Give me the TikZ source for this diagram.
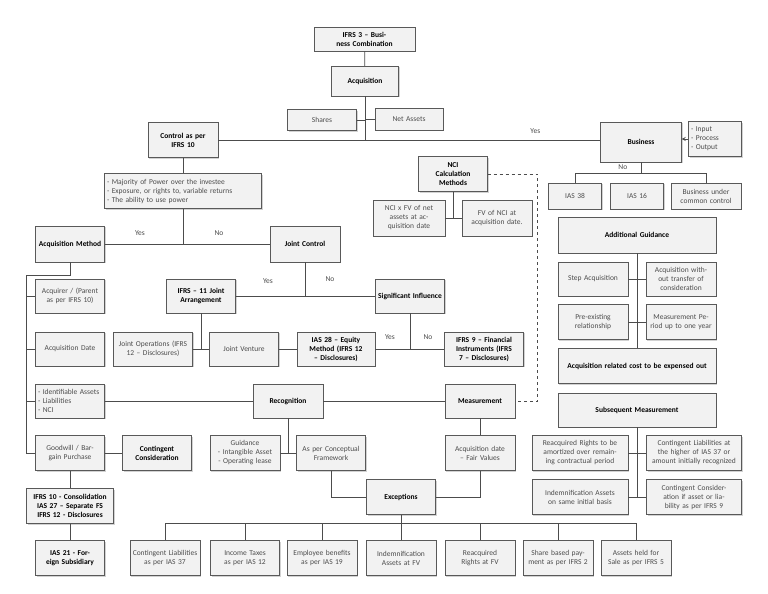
\documentclass[tikz,border=0pt]{standalone}
\usepackage{fontspec}
\setmainfont{Carlito}
\usetikzlibrary{shadows,calc}
\tikzset{
 box/.style={draw=black!65, fill=black!5, inner sep=1pt, align=center, font=\fontsize{7.5}{9}\selectfont, text=black!70, drop shadow={shadow xshift=1pt,shadow yshift=-1pt,opacity=0.35}},
 bbox/.style={box, font=\fontsize{7.5}{9}\selectfont\bfseries, text=black},
 lbox/.style={box, align=left},
 ln/.style={draw=black!70, line width=0.8pt},
 lab/.style={font=\fontsize{7.5}{9}\selectfont, text=black!70}
}
\newcommand\bx[7]{\node[#6, minimum width=#4pt, minimum height=#5pt, text width=\dimexpr#4pt-5pt\relax] (#1) at (#2,#3) {#7};}
\begin{document}
\begin{tikzpicture}[x=1pt,y=-1pt]
\useasboundingbox[fill=white] (0,0) rectangle (768,594);
% top
\bx{ifrs3}{364.5}{39}{101}{24}{bbox}{IFRS 3 -- Business Combination}
\bx{acq}{365}{81}{67}{30}{bbox}{Acquisition}
\bx{shares}{322}{120}{69}{21}{box}{Shares}
\bx{netassets}{409}{119}{68}{22}{box}{Net Assets}
\bx{control}{183}{140}{70}{35}{bbox}{Control as per\\IFRS 10}
\bx{majority}{183}{191}{157}{35}{lbox}{- Majority of Power over the investee\\- Exposure, or rights to, variable returns\\- The ability to use power}
\bx{acqmethod}{70}{244}{69}{36}{bbox}{Acquisition Method}
\bx{jointcontrol}{305}{244}{70}{36}{bbox}{Joint Control}
\bx{business}{641}{142}{81}{40}{bbox}{Business}
\bx{ipo}{715}{139}{53}{35}{lbox}{- Input\\- Process\\- Output}
\bx{nci}{453}{174}{69}{35}{bbox}{NCI\\Calculation Methods}
\bx{ncixfv}{409}{218}{72}{36}{box}{NCI x FV of net assets at acquisition date}
\bx{fvnci}{497}{218}{70}{36}{box}{FV of NCI at acquisition date.}
\bx{ias38}{575}{196}{53}{26}{box}{IAS 38}
\bx{ias16}{637}{196}{53}{26}{box}{IAS 16}
\bx{bucc}{706}{196}{70}{26}{box}{Business under common control}
\bx{addguid}{637}{235}{158}{36}{bbox}{Additional Guidance}
\bx{stepacq}{593}{279}{70}{34}{box}{Step Acquisition}
\bx{acqwithout}{681}{279}{70}{34}{box}{Acquisition without transfer of consideration}
\bx{preex}{593}{322}{70}{35}{box}{Pre-existing relationship}
\bx{measperiod}{681}{322}{70}{35}{box}{Measurement Period up to one year}
\bx{acqcost}{637}{366}{158}{35}{bbox}{Acquisition related cost to be expensed out}
% middle
\bx{acquirer}{70}{296}{69}{34}{box}{Acquirer / (Parent as per IFRS 10)}
\bx{ifrs11}{201}{296}{69}{34}{bbox}{IFRS -- 11 Joint Arrangement}
\bx{signif}{410}{296}{69}{34}{bbox}{Significant Influence}
\bx{acqdate}{70}{349}{69}{34}{box}{Acquisition Date}
\bx{jointops}{153}{349}{79}{34}{box}{Joint Operations (IFRS 12 -- Disclosures)}
\bx{jv}{244}{349}{69}{34}{box}{Joint Venture}
\bx{ias28}{336}{349}{78}{34}{bbox}{IAS 28 -- Equity Method (IFRS 12 -- Disclosures)}
\bx{ifrs9}{484}{349}{79}{34}{bbox}{IFRS 9 -- Financial Instruments (IFRS 7 -- Disclosures)}
\bx{idassets}{70}{401}{69}{34}{lbox}{- Identifiable Assets\\- Liabilities\\- NCI}
\bx{recog}{288}{401}{70}{34}{bbox}{Recognition}
\bx{meas}{480}{401}{70}{34}{bbox}{Measurement}
\bx{subseq}{637}{410}{158}{34}{bbox}{Subsequent Measurement}
\bx{goodwill}{70}{453}{69}{35}{box}{Goodwill / Bargain Purchase}
\bx{contcons}{157}{453}{69}{35}{bbox}{Contingent Consideration}
\bx{guidance}{245}{453}{70}{35}{box}{Guidance\\- Intangible Asset\\- Operating lease}
\bx{concept}{331}{453}{69}{35}{box}{As per Conceptual Framework}
\bx{acqfv}{480}{453}{70}{35}{box}{Acquisition date -- Fair Values}
\bx{reamort}{580}{453}{96}{35}{box}{Reacquired Rights to be amortized over remaining contractual period}
\bx{contlh}{694}{453}{95}{35}{box}{Contingent Liabilities at the higher of IAS 37 or amount initially recognized}
\bx{ifrs10}{70}{506}{87}{35}{bbox}{IFRS 10 - Consolidation\\IAS 27 -- Separate FS\\IFRS 12 - Disclosures}
\bx{except}{401}{497}{69}{35}{bbox}{Exceptions}
\bx{indsame}{580}{497}{96}{35}{box}{Indemnification Assets on same initial basis}
\bx{contcif}{694}{497}{95}{35}{box}{Contingent Consideration if asset or liability as per IFRS 9}
% bottom row
\bx{ias21}{70}{558}{69}{35}{bbox}{IAS 21 - Foreign Subsidiary}
\bx{b1}{165}{558}{70}{35}{box}{Contingent Liabilities as per IAS 37}
\bx{b2}{245}{558}{69}{35}{box}{Income Taxes as per IAS 12}
\bx{b3}{322}{558}{70}{35}{box}{Employee benefits as per IAS 19}
\bx{b4}{401}{558}{70}{35}{box}{Indemnification Assets at FV}
\bx{b5}{480}{558}{70}{35}{box}{Reacquired Rights at FV}
\bx{b6}{558}{558}{70}{35}{box}{Share based payment as per IFRS 2}
\bx{b7}{636}{558}{70}{35}{box}{Assets held for Sale as per IFRS 5}
% connectors
\coordinate (mainy) at (0,140);
\draw[ln] (ifrs3) -- (acq);
\draw[ln] (acq.south) -- (acq.south |- mainy);
\draw[ln] (shares.east) -- (shares.east -| acq.south);
\draw[ln] (netassets.west) -- (netassets.west -| acq.south);
\draw[ln] (control.east) -- (business.west |- control.east) node[lab,pos=0.83,above=3pt]{Yes};
\draw[ln,<-,>=stealth] (business.east |- ipo.west) -- (ipo.west);
\coordinate (busy) at (0,173);
\draw[ln] (business.south) -- (business.south |- busy) node[lab,pos=0.5,left=10pt]{No};
\draw[ln] (ias38.north |- busy) -- (bucc.north |- busy);
\draw[ln] (ias38.north |- busy) -- (ias38.north);
\draw[ln] (bucc.north |- busy) -- (bucc.north);
\draw[ln] (control) -- (majority);
\draw[ln] (acqmethod.east) -- (jointcontrol.west);
\draw[ln] (majority.south) -- (majority.south |- acqmethod.east);
\node[lab] (yes1) at (140,233) {Yes};
\node[lab] (no1) at (219,233) {No};
\draw[ln,dashed] (nci.east) -- ++(50,0) |- (meas.east);
\draw[ln] (nci.south) -- (nci.south |- ncixfv.east);
\draw[ln] (ncixfv.east) -- (fvnci.west);
\draw[ln] (ifrs11.east) -- (signif.west);
\draw[ln] (jointcontrol.south) -- (jointcontrol.south |- signif.west);
\node[lab] (yes2) at (268,281) {Yes};
\node[lab] (no2) at (330,279) {No};
\draw[ln] (jointops.east) -- (jv.west);
\draw[ln] (ifrs11.south) -- (ifrs11.south |- jv.west);
\draw[ln] (jv.east) -- (ias28.west);
\draw[ln] (ias28.east) -- (ifrs9.west);
\draw[ln] (signif.south) -- (signif.south |- ifrs9.west);
\node[lab] (yes3) at (390,337) {Yes};
\node[lab] (no3) at (428,337) {No};
\coordinate (lspine) at (26,275);
\draw[ln] (acqmethod.south) -- (acqmethod.south |- lspine) -- (lspine) -- (lspine |- goodwill.west) -- (goodwill.west);
\draw[ln] (lspine |- acquirer.west) -- (acquirer.west);
\draw[ln] (lspine |- acqdate.west) -- (acqdate.west);
\draw[ln] (lspine |- idassets.west) -- (idassets.west);
\draw[ln] (idassets.east) -- (recog.west);
\draw[ln] (recog.east) -- (meas.west);
\draw[ln] (guidance.east) -- (concept.west);
\draw[ln] (recog.south) -- (recog.south |- concept.west);
\draw[ln] (goodwill.east) -- (contcons.west);
\draw[ln] (goodwill) -- (ifrs10);
\draw[ln] (ifrs10) -- (ias21);
\draw[ln] (meas) -- (acqfv);
\draw[ln] (acqfv.south) |- (except.east);
\draw[ln] (concept.south) |- (except.west);
\coordinate (boty) at (0,523);
\draw[ln] (except.south) -- (except.south |- boty);
\draw[ln] (b1.north |- boty) -- (b7.north |- boty);
\foreach \b in {b1,b2,b3,b4,b5,b6,b7} \draw[ln] (\b.north |- boty) -- (\b.north);
\draw[ln] (addguid.south) -- (addguid.south |- acqcost.north);
\draw[ln] (stepacq.east) -- (acqwithout.west);
\draw[ln] (preex.east) -- (measperiod.west);
\draw[ln] (subseq.south) -- (subseq.south |- indsame.east);
\draw[ln] (reamort.east) -- (contlh.west);
\draw[ln] (indsame.east) -- (contcif.west);
\end{tikzpicture}
\end{document}
